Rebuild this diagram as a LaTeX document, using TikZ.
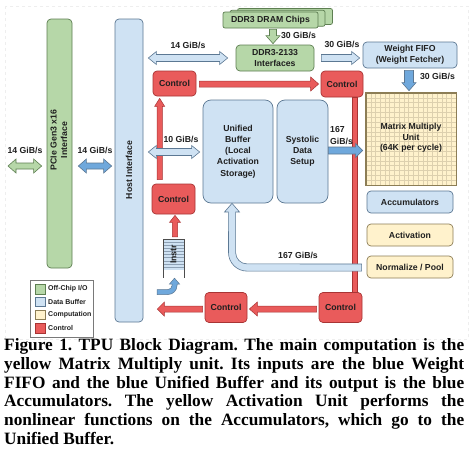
\documentclass[tikz,border=0pt]{standalone}
\usepackage{fontspec}
\setmainfont{Liberation Serif}
\newfontfamily\dsans{Liberation Sans}
\usetikzlibrary{calc}
\frenchspacing
\definecolor{gF}{HTML}{B6D7A8}\definecolor{gD}{HTML}{5E7F52}
\definecolor{bF}{HTML}{CFE2F3}\definecolor{bD}{HTML}{5C7893}
\definecolor{mB}{HTML}{6FA8DC}
\definecolor{yF}{HTML}{FFF2CC}\definecolor{yD}{HTML}{8C7D55}
\definecolor{rF}{HTML}{E95B5B}\definecolor{rD}{HTML}{A83434}
\definecolor{txt}{HTML}{1F1F1F}
\definecolor{gridc}{HTML}{DDD0AE}
\definecolor{faintline}{HTML}{EEEEEE}
% single fat arrow: [style]{from}{to}{shaft half}{head half}{head length}
\newcommand\fatarr[6][]{%
 \draw[#1] ($(#2)!#4!90:(#3)$) -- ($(#3)!#6!(#2)!#4!90:(#3)$) -- ($(#3)!#6!(#2)!#5!90:(#3)$) -- (#3)
  -- ($(#3)!#6!(#2)!#5!-90:(#3)$) -- ($(#3)!#6!(#2)!#4!-90:(#3)$) -- ($(#2)!#4!-90:(#3)$) -- cycle;}
% double fat arrow
\newcommand\dblarr[6][]{%
 \draw[#1] (#2) -- ($(#2)!#6!(#3)!#5!90:(#3)$) -- ($(#2)!#6!(#3)!#4!90:(#3)$) -- ($(#3)!#6!(#2)!#4!90:(#3)$)
  -- ($(#3)!#6!(#2)!#5!90:(#3)$) -- (#3) -- ($(#3)!#6!(#2)!#5!-90:(#3)$) -- ($(#3)!#6!(#2)!#4!-90:(#3)$)
  -- ($(#2)!#6!(#3)!#4!-90:(#3)$) -- ($(#2)!#6!(#3)!#5!-90:(#3)$) -- cycle;}
\tikzset{
 lbl/.style={font=\dsans\bfseries\fontsize{8.7}{10.5}\selectfont, text=txt, inner sep=0pt, align=center},
 blk/.style={lbl, rounded corners=4pt, line width=0.7pt},
 gbox/.style={blk, fill=gF, draw=gD},
 bbox/.style={blk, fill=bF, draw=bD},
 ybox/.style={blk, fill=yF, draw=yD},
 rbox/.style={blk, fill=rF, draw=rD},
 garr/.style={fill=gF, draw=gD, line width=0.6pt, line join=miter},
 larr/.style={fill=bF, draw=bD, line width=0.6pt, line join=miter},
 marr/.style={fill=mB, draw=bD, line width=0.6pt, line join=miter},
 rarr/.style={fill=rF, draw=rD, line width=0.5pt, line join=miter},
 captext/.style={font=\bfseries\fontsize{17.3}{18.8}\selectfont, inner sep=0pt, anchor=base west},
 legtext/.style={font=\dsans\bfseries\fontsize{7}{8}\selectfont, text=txt, inner sep=0pt, anchor=west},
}
\begin{document}
\begin{tikzpicture}[x=1pt,y=-1pt]
\useasboundingbox (0,0) rectangle (474,458);
\fill[white] (0,0) rectangle (474,458);
\draw[faintline, dash pattern=on 3pt off 3pt, line width=0.6pt] (5,6) rectangle (468,339);

% ---- boxes ----
\node[gbox, minimum width=25pt, minimum height=249pt] (pcie) at (59.5,143.5) {};
\node[lbl, rotate=90] (pcietxt) at (59,140) {PCIe Gen3 x16\\Interface};
\node[bbox, minimum width=28pt, minimum height=303pt] (host) at (129,170.5) {};
\node[lbl, rotate=90] (hosttxt) at (129,170) {Host Interface};

\node[gbox, rounded corners=2pt, minimum width=95pt, minimum height=16pt] (chips3) at (285,16.5) {};
\node[gbox, rounded corners=2pt, minimum width=95pt, minimum height=16pt] (chips2) at (277.5,18.3) {};
\node[gbox, rounded corners=2pt, minimum width=95pt, minimum height=16pt] (chips) at (270.5,20) {DDR3 DRAM Chips};
\node[gbox, minimum width=78pt, minimum height=26pt] (ddr) at (275,58) {DDR3-2133\\Interfaces};
\node[bbox, minimum width=94pt, minimum height=26pt] (fifo) at (410,55) {Weight FIFO\\(Weight Fetcher)};

\node[rbox, minimum width=43pt, minimum height=25pt] (ctrlU) at (174.5,83.5) {Control};
\node[rbox, minimum width=42pt, minimum height=26pt] (ctrlT) at (342,84) {Control};
\node[rbox, minimum width=43pt, minimum height=30pt] (ctrlM) at (173.5,199) {Control};
\node[rbox, minimum width=42pt, minimum height=30pt] (ctrlBL) at (226,307.5) {Control};
\node[rbox, minimum width=43pt, minimum height=30pt] (ctrlBR) at (340.5,307.5) {Control};

\node[bbox, rounded corners=8pt, minimum width=70pt, minimum height=103pt, font=\dsans\bfseries\fontsize{8.7}{11.2}\selectfont] (ub) at (238,151.5) {Unified\\Buffer\\(Local\\Activation\\Storage)};
\node[bbox, rounded corners=8pt, minimum width=51pt, minimum height=103pt, font=\dsans\bfseries\fontsize{8.7}{11}\selectfont] (sds) at (302.5,151.5) {Systolic\\Data\\Setup};

% matrix multiply unit with grid
\node[ybox, rounded corners=0pt, minimum width=90pt, minimum height=92pt] (mmu) at (411,139) {};
\foreach \i in {1,...,18} {
  \draw[gridc, line width=0.4pt] (366+\i*4.737,93.5) -- (366+\i*4.737,184.5);
  \draw[gridc, line width=0.4pt] (366.5,93+\i*4.842) -- (455.5,93+\i*4.842);
}
\draw[yD, line width=0.7pt] (mmu.north west) rectangle (mmu.south east);
\node[lbl] (mmutxt) at (411,138) {Matrix Multiply\\Unit\\(64K per cycle)};

\node[bbox, minimum width=86pt, minimum height=22pt] (acc) at (410,202) {Accumulators};
\node[ybox, minimum width=86pt, minimum height=22pt] (act) at (410,235) {Activation};
\node[ybox, minimum width=86pt, minimum height=22pt] (norm) at (410,267) {Normalize / Pool};

% instruction queue
\node[fill=bF, minimum width=21pt, minimum height=31pt, inner sep=0pt] (instr) at (173.5,254.5) {};
\foreach \j in {1,...,9} \draw[bD!70, line width=0.4pt] (163,239+\j*3.1) -- (184,239+\j*3.1);
\draw[txt!80, line width=0.7pt] (163,239) -- (163,278) (184,239) -- (184,278) (163,239) -- (184,239);
\node[lbl, rotate=90] (instrtxt) at (173.5,254.5) {Instr};

% ---- arrow end points ----
\coordinate (gL) at (8,166);
\coordinate (gR) at ($(pcie.west|-gL)+(-5,0)$);
\coordinate (bL) at ($(pcie.east|-gL)+(6,0)$);
\coordinate (bR) at ($(host.west|-gL)+(-3,0)$);
\coordinate (tR) at ($(ddr.west)+(-8,0)$);
\coordinate (tL) at ($(host.east|-tR)+(5,0)$);
\coordinate (uR) at ($(ub.west)+(-3,0.5)$);
\coordinate (uL) at ($(host.east|-uR)+(5,0)$);
\coordinate (cB) at ($(ddr.north)+(-2,-1)$);
\coordinate (cT) at ($(cB|-chips.south)+(0,1)$);
\coordinate (dL) at ($(ddr.east)+(7,0)$);
\coordinate (dR) at ($(fifo.west|-dL)+(-3,0)$);
\coordinate (fT) at ($(fifo.south)+(-1,2)$);
\coordinate (fB) at ($(mmu.north)+(-2,-2)$);
\coordinate (sL) at ($(sds.east)+(0,-1)$);
\coordinate (sR) at ($(mmu.west|-sL)+(-3,0)$);
\coordinate (r1L) at ($(ctrlU.east)+(3,0.5)$);
\coordinate (r1R) at ($(ctrlT.west|-r1L)+(-2,0)$);
\coordinate (r2B) at ($(ctrlM.north west)+(8,-4)$);
\coordinate (r2T) at ($(r2B|-ctrlU.south)+(0,2)$);
\coordinate (r3T) at ($(ctrlM.south)+(1.5,1)$);
\coordinate (r3B) at ($(r3T|-instr.north)+(0,-2)$);
\coordinate (v1) at ($(ctrlT.south)+(13,0)$);
\coordinate (v2) at (v1|-ctrlBR.north);
\coordinate (r4R) at ($(ctrlBR.west)+(-2,1.5)$);
\coordinate (r4L) at ($(ctrlBL.east|-r4R)+(2,0)$);
\coordinate (r5R) at ($(ctrlBL.west|-r4R)+(-2,0)$);
\coordinate (r5L) at ($(host.east|-r5R)+(14,0)$);

% ---- red control paths ----
\fatarr[rarr]{r2B}{r2T}{2.6pt}{5pt}{8pt}
\fatarr[rarr]{r1L}{r1R}{3pt}{7pt}{8pt}
\fatarr[rarr]{r3B}{r3T}{2.7pt}{5.5pt}{7pt}
\draw[rarr] ($(v1)+(-2.5,0)$) rectangle ($(v2)+(2.5,0)$);
\fatarr[rarr]{r4R}{r4L}{3pt}{7pt}{8pt}
\fatarr[rarr]{r5R}{r5L}{3pt}{7pt}{7pt}

% ---- data paths ----
\dblarr[garr]{gL}{gR}{3pt}{7pt}{8pt}
\dblarr[marr]{bL}{bR}{3pt}{7pt}{8pt}
\dblarr[larr]{tL}{tR}{3.5pt}{6.5pt}{8pt}
\dblarr[larr]{uL}{uR}{3.5pt}{6.5pt}{8pt}
\fatarr[garr]{cT}{cB}{3.5pt}{7pt}{8pt}
\fatarr[larr]{dL}{dR}{3.5pt}{6.5pt}{8pt}
\fatarr[marr]{fT}{fB}{4.5pt}{7pt}{8pt}
\fatarr[marr]{sL}{sR}{3.5pt}{7pt}{7pt}

% feedback Normalize/Pool -> Unified Buffer
\coordinate (fbR) at ($(norm.west)+(-5,0.5)$);
\coordinate (fbT) at ($(ub.south)+(-6,0)$);
\draw[larr] ($(fbR)+(0,3.6)$) -- (247,271.1) arc[start angle=270, end angle=180, radius=18.5pt]
  -- (228.4,212) -- (224.5,212) -- (fbT) -- (239.5,212) -- (235.6,212) -- (235.6,252.5)
  arc[start angle=180, end angle=270, radius=11.4pt] -- ($(fbR)+(0,-3.5)$) -- cycle;

% bent arrow into instruction queue
\coordinate (iT) at ($(instr.south)+(1,8)$);
\draw[marr, line width=0.5pt] (157,289.5) -- (157,294.5) -- (168,294.5) arc[start angle=270, end angle=360, radius=9pt]
  -- (177,284) -- (179.5,284) -- (iT) -- (169.5,284) -- (172,284) -- (172,285.5)
  arc[start angle=0, end angle=-90, radius=4pt] -- cycle;

% ---- rate labels ----
\node[lbl] (l1) at (25,150) {14 GiB/s};
\node[lbl] (l2) at (95,150) {14 GiB/s};
\node[lbl] (l3) at (188,45) {14 GiB/s};
\node[lbl] (l4) at (181,139) {10 GiB/s};
\node[lbl] (l5) at (298.5,35) {30 GiB/s};
\node[lbl] (l6) at (342,44) {30 GiB/s};
\node[lbl] (l7) at (437.5,76) {30 GiB/s};
\node[lbl, anchor=west, align=left, font=\dsans\bfseries\fontsize{8.7}{12}\selectfont] (l8) at (330,135.5) {167\\GiB/s};
\node[lbl] (l9) at (298,255.5) {167 GiB/s};

% ---- legend ----
\node[draw=txt!60, line width=0.7pt, minimum width=63pt, minimum height=57pt, inner sep=0pt] (legend) at (61.5,308.5) {};
\node[fill=gF, draw=gD, line width=0.5pt, minimum size=9.5pt, inner sep=0pt] (lg1) at (40,289) {};
\node[fill=bF, draw=bD, line width=0.5pt, minimum size=9.5pt, inner sep=0pt] (lg2) at (40,301.5) {};
\node[fill=yF, draw=yD, line width=0.5pt, minimum size=9.5pt, inner sep=0pt] (lg3) at (40,314.5) {};
\node[fill=rF, draw=rD, line width=0.5pt, minimum size=9.5pt, inner sep=0pt] (lg4) at (40,328) {};
\node[legtext] (lt1) at (48,289) {Off-Chip I/O};
\node[legtext] (lt2) at (48,301.5) {Data Buffer};
\node[legtext] (lt3) at (48,314.5) {Computation};
\node[legtext] (lt4) at (48,328) {Control};

% ---- caption ----
\node[captext] (c1) at (4,350.5) {\makebox[460pt][s]{Figure 1. TPU Block Diagram. The main computation is the}};
\node[captext] (c2) at (4,369.3) {\makebox[460pt][s]{yellow Matrix Multiply unit. Its inputs are the blue Weight}};
\node[captext] (c3) at (4,388.1) {\makebox[460pt][s]{FIFO and the blue Unified Buffer and its output is the blue}};
\node[captext] (c4) at (4,406.9) {\makebox[460pt][s]{Accumulators. The yellow Activation Unit performs the}};
\node[captext] (c5) at (4,425.7) {\makebox[460pt][s]{nonlinear functions on the Accumulators, which go to the}};
\node[captext] (c6) at (4,444.5) {Unified Buffer.};
\end{tikzpicture}
\end{document}
